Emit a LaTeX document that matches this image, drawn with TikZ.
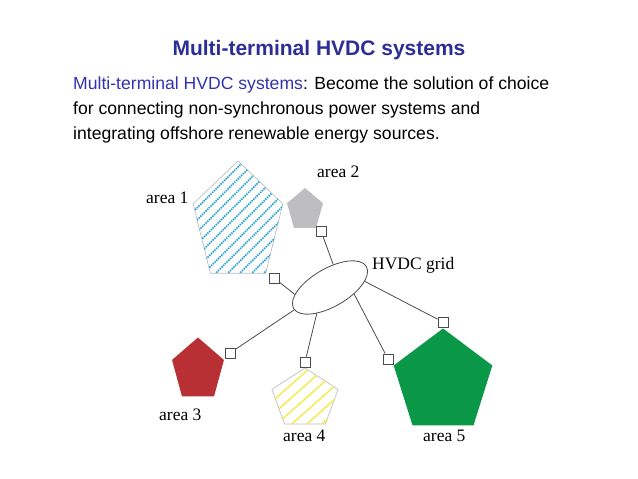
\documentclass[tikz,border=0pt]{standalone}
\usepackage{fontspec}
\setmainfont{Liberation Serif}
\newfontfamily\arial{Liberation Sans}
\usetikzlibrary{shapes.geometric}
\definecolor{titleblue}{RGB}{44,46,150}
\definecolor{textblue}{RGB}{50,50,175}
\definecolor{areared}{RGB}{184,48,52}
\definecolor{areagreen}{RGB}{10,152,72}
\definecolor{areagray}{RGB}{190,190,192}
\definecolor{hatchblue}{RGB}{30,160,214}
\definecolor{hatchyellow}{RGB}{245,235,80}
\begin{document}
\begin{tikzpicture}[x=1pt,y=-1pt]
\useasboundingbox (0,0) rectangle (638,479);
\tikzstyle{area}=[regular polygon,regular polygon sides=5,inner sep=0pt,outer sep=0pt]
\tikzstyle{term}=[draw=black!70,fill=white,minimum size=10pt,inner sep=0pt,line width=0.8pt]
\tikzstyle{lbl}=[font=\fontsize{17.5}{20}\selectfont,inner sep=0pt,anchor=base west]
\tikzstyle{link}=[black!70,line width=0.8pt]
% heading and text
\node[anchor=base,inner sep=0pt,text=titleblue,font=\arial\bfseries\fontsize{21}{25}\selectfont](title) at (319,55) {Multi-terminal HVDC systems};
\node[anchor=base west,inner sep=0pt,font=\arial\fontsize{17.6}{25}\selectfont](t1) at (73,89) {\textcolor{textblue}{Multi-terminal HVDC systems}: Become the solution of choice};
\node[anchor=base west,inner sep=0pt,font=\arial\fontsize{17.6}{25}\selectfont](t2) at (73,114) {for connecting non-synchronous power systems and};
\node[anchor=base west,inner sep=0pt,font=\arial\fontsize{17.6}{25}\selectfont](t3) at (73,139) {integrating offshore renewable energy sources.};
% areas
\node[area,draw=black!25,line width=0.7pt,minimum size=124pt,xscale=0.76](a1) at (238,223) {};
\begin{scope}
\clip (a1.corner 1) -- (a1.corner 2) -- (a1.corner 3) -- (a1.corner 4) -- (a1.corner 5) -- cycle;
\foreach \d in {-150,-138,...,150}
  \draw[hatchblue,line width=1.5pt,dash pattern=on 1.5pt off 0.9pt] (238+\d,223+70) -- ++(140,-140);
\end{scope}
\node[area,fill=areagray,minimum size=44pt,xscale=0.86](a2) at (305,210) {};
\node[area,fill=areared,minimum size=65pt,xscale=0.84](a3) at (198,370) {};
\node[area,draw=black!25,line width=0.7pt,minimum size=62pt,xscale=1.12](a4) at (305,399) {};
\begin{scope}
\clip (a4.corner 1) -- (a4.corner 2) -- (a4.corner 3) -- (a4.corner 4) -- (a4.corner 5) -- cycle;
\foreach \d in {-90,-75,...,90}
  \draw[hatchyellow,line width=1.5pt] (305+\d,399+40) -- ++(90,-80);
\end{scope}
\node[area,fill=areagreen,minimum size=107pt,xscale=0.97](a5) at (443,382) {};
% grid and terminals
\node[ellipse,draw=black!70,fill=white,line width=0.8pt,inner sep=0pt,minimum width=84pt,minimum height=38pt,rotate=30](grid) at (330,287.5) {};
\node[term](s1) at (274,278) {};
\node[term](s2) at (321,231) {};
\node[term](s3) at (230,353) {};
\node[term](s4) at (305,362) {};
\node[term](s5) at (388,359) {};
\node[term](s6) at (443,322) {};
\draw[link] (s1) -- (grid.161);
\draw[link] (s2) -- (grid.52);
\draw[link] (s3) -- (grid.182);
\draw[link] (s4) -- (grid.213);
\draw[link] (s5) -- (grid.315);
\draw[link] (s6) -- (grid.340);
% labels
\node[lbl](n1) at (146,203) {area 1};
\node[lbl](n2) at (317,177) {area 2};
\node[lbl](ng) at (372,269) {HVDC grid};
\node[lbl](n3) at (159,420) {area 3};
\node[lbl](n4) at (283,441) {area 4};
\node[lbl](n5) at (423,441) {area 5};
\end{tikzpicture}
\end{document}
